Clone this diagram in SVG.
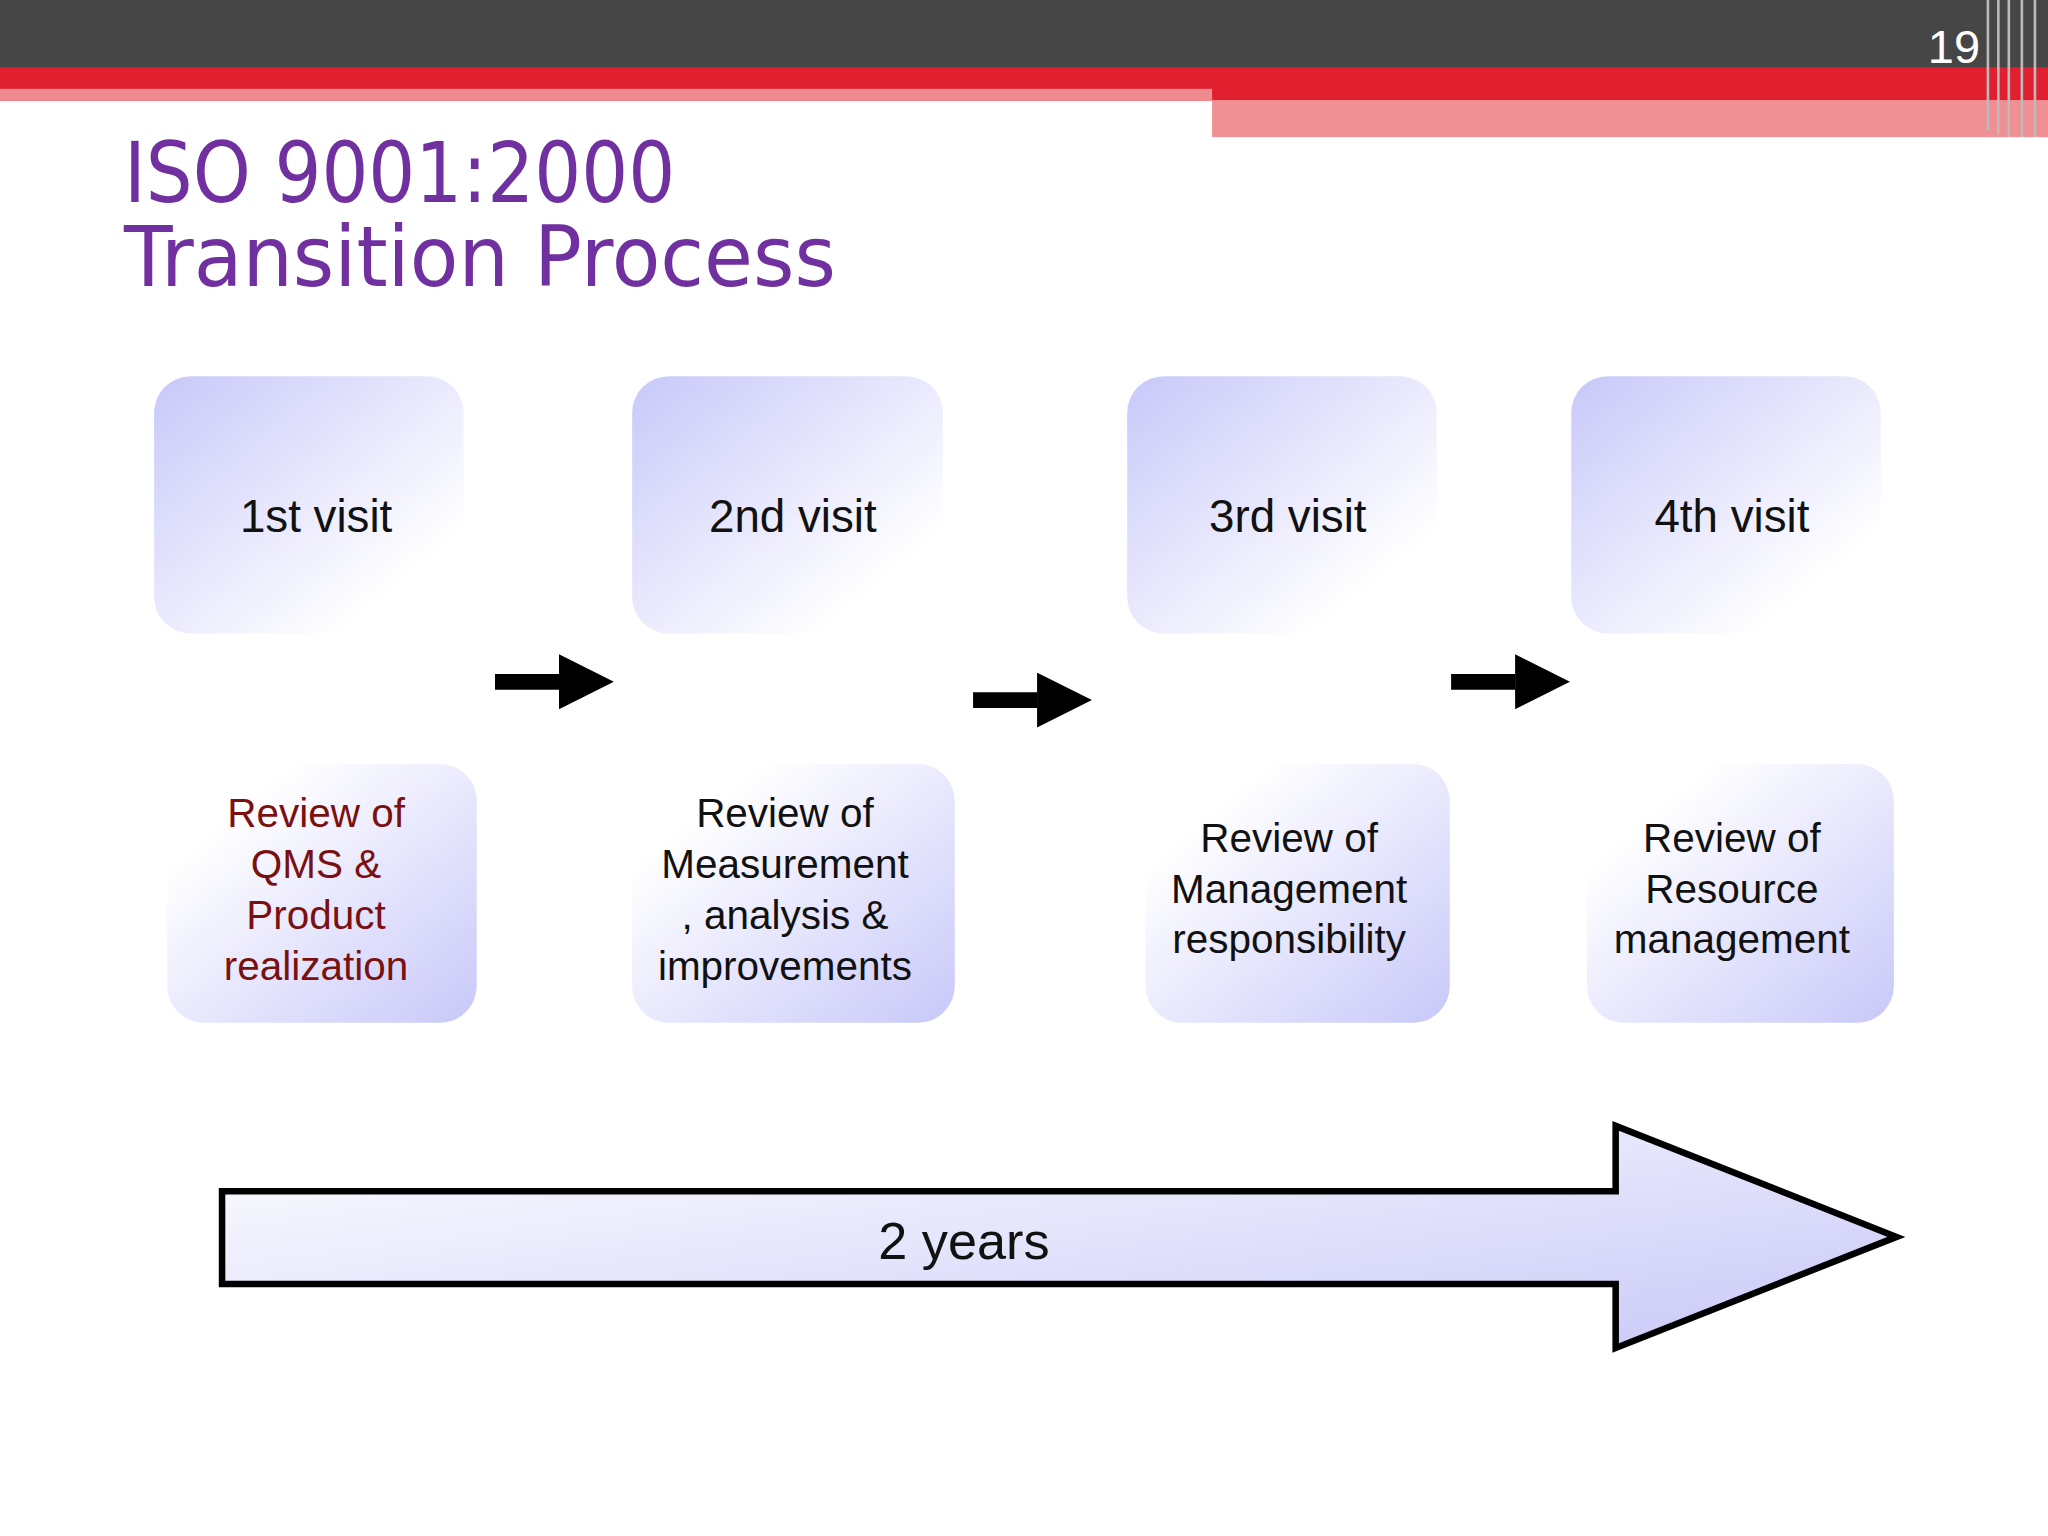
<svg xmlns="http://www.w3.org/2000/svg" width="2048" height="1536" viewBox="0 0 2048 1536">
<defs>
<linearGradient id="gt" x1="0" y1="0" x2="1" y2="1"><stop offset="0" stop-color="#c8c8fa"/><stop offset="0.8" stop-color="#ffffff"/></linearGradient>
<linearGradient id="gb" x1="0" y1="0" x2="1" y2="1"><stop offset="0.2" stop-color="#ffffff"/><stop offset="1" stop-color="#c8c8fa"/></linearGradient>
<linearGradient id="ga" x1="0" y1="0" x2="1" y2="1"><stop offset="0" stop-color="#ffffff"/><stop offset="1" stop-color="#c8c8f8"/></linearGradient>
<marker id="ah" markerWidth="3.5" markerHeight="3.5" refX="0" refY="1.75" orient="auto" markerUnits="strokeWidth"><path d="M0,0 L0,3.5 L3.5,1.75 Z" fill="#000"/></marker>
<style>
text{font-family:"Liberation Sans",Arial,sans-serif}
.v{font-size:35px;text-anchor:middle;fill:#111}
.d{font-size:31px;text-anchor:middle;fill:#111}
.r{fill:#7a1010}
.c{stroke:#000;stroke-width:12;fill:none;marker-end:url(#ah)}
.t{font-size:64px;fill:#7030a0;font-family:"DejaVu Sans",sans-serif}
</style>
</defs>
<rect width="2048" height="1536" fill="#fff"/>
<g transform="scale(1.30612)">
<rect x="0" y="0" width="1568" height="52" fill="#464646"/>
<rect x="0" y="52" width="1568" height="25" fill="#e0202e"/>
<rect x="0" y="68" width="928" height="9" fill="#f08a90"/>
<rect x="928" y="77" width="640" height="28" fill="#f09094"/>
<g stroke="#bbb" stroke-width="2"><line x1="1522" y1="0" x2="1522" y2="100"/><line x1="1530" y1="0" x2="1530" y2="103"/><line x1="1538" y1="0" x2="1538" y2="105"/><line x1="1548" y1="0" x2="1548" y2="105"/><line x1="1558" y1="0" x2="1558" y2="105"/></g>
<text x="1516" y="48" font-size="36" fill="#fff" text-anchor="end">19</text>
<text class="t" x="95" y="155" textLength="422" lengthAdjust="spacingAndGlyphs">ISO 9001:2000</text>
<text class="t" x="95" y="219" textLength="545" lengthAdjust="spacingAndGlyphs">Transition Process</text>
<g id="v1"><rect x="118" y="288" width="237" height="197" rx="28" fill="url(#gt)"/><text class="v" x="242" y="407">1st visit</text></g>
<g id="v2"><rect x="484" y="288" width="238" height="197" rx="28" fill="url(#gt)"/><text class="v" x="607" y="407">2nd visit</text></g>
<g id="v3"><rect x="863" y="288" width="237" height="197" rx="28" fill="url(#gt)"/><text class="v" x="986" y="407">3rd visit</text></g>
<g id="v4"><rect x="1203" y="288" width="237" height="197" rx="28" fill="url(#gt)"/><text class="v" x="1326" y="407">4th visit</text></g>
<g id="b1"><rect x="128" y="585" width="237" height="198" rx="28" fill="url(#gb)"/><text class="d r" x="242" y="633">Review of</text><text class="d r" x="242" y="672">QMS &amp;</text><text class="d r" x="242" y="711">Product</text><text class="d r" x="242" y="750">realization</text></g>
<g id="b2"><rect x="484" y="585" width="247" height="198" rx="28" fill="url(#gb)"/><text class="d" x="601" y="633">Review of</text><text class="d" x="601" y="672">Measurement</text><text class="d" x="601" y="711">, analysis &amp;</text><text class="d" x="601" y="750">improvements</text></g>
<g id="b3"><rect x="877" y="585" width="233" height="198" rx="28" fill="url(#gb)"/><text class="d" x="987" y="652">Review of</text><text class="d" x="987" y="691">Management</text><text class="d" x="987" y="730">responsibility</text></g>
<g id="b4"><rect x="1215" y="585" width="235" height="198" rx="28" fill="url(#gb)"/><text class="d" x="1326" y="652">Review of</text><text class="d" x="1326" y="691">Resource</text><text class="d" x="1326" y="730">management</text></g>
<g id="connectors">
<line class="c" x1="379" y1="522" x2="428" y2="522"/>
<line class="c" x1="745" y1="536" x2="794" y2="536"/>
<line class="c" x1="1111" y1="522" x2="1160" y2="522"/>
</g>
<g id="timeline"><polygon points="170,912 1237,912 1237,862 1452,947 1237,1032 1237,983 170,983" fill="url(#ga)" stroke="#000" stroke-width="5"/><text x="738" y="964" font-size="40" text-anchor="middle" fill="#111">2 years</text></g>
</g>
</svg>
